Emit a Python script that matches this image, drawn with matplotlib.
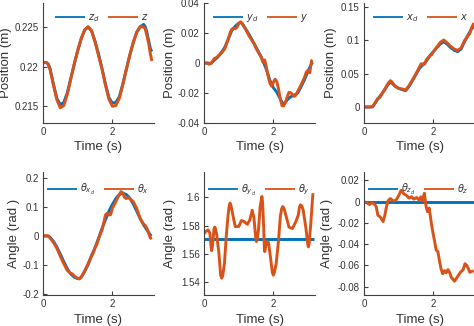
import numpy as np
import matplotlib
matplotlib.use("Agg")
import matplotlib.pyplot as plt

# ---- series: time (s) and values per channel ----
z_t = [0.0, 0.1, 0.15, 0.2, 0.3, 0.4, 0.5, 0.6, 0.7, 0.8, 0.9, 1.0, 1.1, 1.2, 1.3, 1.4, 1.5, 1.6,
       1.7, 1.8, 1.9, 2.0, 2.1, 2.2, 2.3, 2.4, 2.5, 2.6, 2.7, 2.8, 2.9, 2.95, 3.0, 3.05, 3.1, 3.14]
z_d = [0.2205, 0.2205, 0.2203, 0.2198, 0.2178, 0.2160, 0.2152, 0.2155, 0.2167, 0.2185, 0.2203, 0.2220,
       0.2235, 0.2246, 0.2250, 0.2245, 0.2232, 0.2216, 0.2198, 0.2178, 0.2161, 0.2154, 0.2155, 0.2162,
       0.2178, 0.2196, 0.2214, 0.2230, 0.2243, 0.2250, 0.2253, 0.2250, 0.2242, 0.2232, 0.2222, 0.2219]
z_m = [0.2205, 0.2205, 0.2203, 0.2197, 0.2177, 0.2158, 0.2148, 0.2151, 0.2165, 0.2184, 0.2203, 0.2220,
       0.2235, 0.2246, 0.2250, 0.2245, 0.2231, 0.2214, 0.2197, 0.2177, 0.2159, 0.2150, 0.2151, 0.2160,
       0.2177, 0.2196, 0.2214, 0.2230, 0.2243, 0.2250, 0.2250, 0.2247, 0.2238, 0.2228, 0.2215, 0.2207]

yd_t = [0.0, 0.1, 0.2, 0.3, 0.4, 0.5, 0.6, 0.7, 0.8, 0.9, 1.0, 1.05, 1.1, 1.2, 1.3, 1.4, 1.5, 1.6,
        1.7, 1.8, 1.9, 2.0, 2.1, 2.2, 2.28, 2.35, 2.4, 2.5, 2.6, 2.7, 2.8, 2.9, 3.0, 3.1, 3.13]
y_d = [0.0, 0.0, -0.0003, 0.002, 0.004, 0.007, 0.0105, 0.016, 0.0215, 0.0245, 0.0265, 0.027, 0.0262,
       0.0228, 0.019, 0.0148, 0.0105, 0.0062, 0.0015, -0.0045, -0.0115, -0.0165, -0.0195, -0.024,
       -0.0275, -0.0262, -0.0245, -0.0225, -0.0215, -0.02, -0.0158, -0.011, -0.0055, -0.0005, 0.0005]
y_t = [0.0, 0.1, 0.15, 0.2, 0.3, 0.35, 0.4, 0.5, 0.6, 0.7, 0.75, 0.8, 0.85, 0.9, 0.95, 1.0, 1.05, 1.1,
       1.2, 1.3, 1.4, 1.45, 1.5, 1.6, 1.65, 1.7, 1.75, 1.8, 1.85, 1.9, 1.95, 2.0, 2.05, 2.1, 2.15, 2.2,
       2.25, 2.3, 2.35, 2.4, 2.45, 2.5, 2.55, 2.6, 2.65, 2.7, 2.8, 2.9, 2.95, 3.0, 3.05, 3.1, 3.13]
y_m = [0.0, -0.0002, -0.0008, -0.0003, 0.003, 0.0035, 0.0045, 0.0065, 0.0095, 0.016, 0.020, 0.0225,
       0.0232, 0.0228, 0.0238, 0.0262, 0.0275, 0.0265, 0.0225, 0.018, 0.0145, 0.0128, 0.0098, 0.0058,
       0.004, 0.0005, 0.002, -0.003, -0.009, -0.0135, -0.0155, -0.0128, -0.0108, -0.0125, -0.0175,
       -0.024, -0.0285, -0.0285, -0.026, -0.0225, -0.0195, -0.0198, -0.021, -0.0222, -0.0215, -0.019,
       -0.0145, -0.0095, -0.006, -0.0048, -0.0065, 0.0015, 0.002]

xd_t = [0.0, 0.2, 0.25, 0.3, 0.4, 0.5, 0.6, 0.7, 0.76, 0.8, 0.9, 1.0, 1.1, 1.2, 1.3, 1.4, 1.5, 1.6,
        1.7, 1.8, 1.9, 2.0, 2.1, 2.2, 2.3, 2.4, 2.5, 2.6, 2.7, 2.8, 2.9, 3.0, 3.1, 3.17]
x_d = [0.0, 0.0, 0.0005, 0.004, 0.012, 0.019, 0.026, 0.034, 0.0375, 0.036, 0.031, 0.028, 0.026, 0.0245,
       0.031, 0.040, 0.049, 0.058, 0.0635, 0.069, 0.077, 0.083, 0.089, 0.0945, 0.098, 0.094, 0.089,
       0.085, 0.083, 0.087, 0.098, 0.108, 0.117, 0.121]
x_t = [0.0, 0.2, 0.25, 0.3, 0.4, 0.45, 0.5, 0.6, 0.7, 0.76, 0.8, 0.9, 1.0, 1.1, 1.2, 1.3, 1.4, 1.5,
       1.6, 1.65, 1.7, 1.75, 1.8, 1.9, 1.95, 2.0, 2.1, 2.2, 2.3, 2.4, 2.5, 2.6, 2.7, 2.8, 2.9, 2.95,
       3.0, 3.05, 3.1, 3.17]
x_m = [0.0, 0.0, 0.0005, 0.005, 0.013, 0.014, 0.018, 0.027, 0.036, 0.0395, 0.038, 0.031, 0.028, 0.027,
       0.0255, 0.032, 0.041, 0.050, 0.060, 0.065, 0.0635, 0.0645, 0.071, 0.077, 0.0785, 0.083, 0.090,
       0.097, 0.1005, 0.096, 0.091, 0.087, 0.085, 0.0885, 0.100, 0.103, 0.107, 0.110, 0.119, 0.126]

thxd_t = [0.0, 0.15, 0.2, 0.3, 0.4, 0.5, 0.6, 0.7, 0.8, 0.9, 1.0, 1.05, 1.1, 1.2, 1.3, 1.4, 1.5, 1.6,
          1.7, 1.8, 1.9, 2.0, 2.1, 2.2, 2.3, 2.4, 2.5, 2.6, 2.7, 2.8, 2.9, 3.0, 3.1, 3.13]
thx_d = [0.0, 0.0, -0.004, -0.018, -0.038, -0.062, -0.088, -0.112, -0.130, -0.141, -0.146, -0.146,
         -0.142, -0.122, -0.098, -0.067, -0.040, -0.008, 0.025, 0.055, 0.085, 0.108, 0.128, 0.142,
         0.147, 0.142, 0.130, 0.110, 0.085, 0.060, 0.038, 0.020, 0.003, 0.0]
thx_t = [0.0, 0.1, 0.15, 0.2, 0.3, 0.4, 0.5, 0.6, 0.7, 0.8, 0.85, 0.9, 1.0, 1.05, 1.1, 1.2, 1.3, 1.4,
         1.45, 1.5, 1.55, 1.6, 1.65, 1.7, 1.75, 1.8, 1.85, 1.9, 1.95, 2.0, 2.1, 2.2, 2.25, 2.3, 2.35,
         2.4, 2.45, 2.5, 2.6, 2.7, 2.8, 2.9, 2.95, 3.0, 3.05, 3.1, 3.13]
thx_m = [0.0, 0.001, 0.0, -0.006, -0.022, -0.042, -0.070, -0.095, -0.118, -0.128, -0.130, -0.137,
         -0.145, -0.147, -0.140, -0.120, -0.095, -0.068, -0.058, -0.040, -0.030, -0.010, 0.005, 0.020,
         0.045, 0.072, 0.078, 0.072, 0.073, 0.095, 0.118, 0.142, 0.152, 0.147, 0.132, 0.128, 0.131,
         0.128, 0.118, 0.095, 0.060, 0.040, 0.036, 0.025, 0.008, -0.008, -0.004]

thyd_t = [0.0, 3.16]
thy_d = [1.5708, 1.5708]
thy_t = [0.0, 0.05, 0.12, 0.17, 0.20, 0.22, 0.24, 0.26, 0.29, 0.31, 0.33, 0.36, 0.43, 0.48, 0.51,
         0.54, 0.59, 0.64, 0.69, 0.72, 0.75, 0.78, 0.82, 0.9, 1.0, 1.08, 1.15, 1.25, 1.32, 1.39, 1.44,
         1.49, 1.51, 1.53, 1.57, 1.62, 1.65, 1.67, 1.69, 1.72, 1.74, 1.75, 1.77, 1.8, 1.86, 1.92,
         1.97, 2.0, 2.03, 2.08, 2.15, 2.2, 2.24, 2.27, 2.31, 2.37, 2.45, 2.55, 2.65, 2.72, 2.75,
         2.78, 2.82, 2.86, 2.94, 2.99, 3.01, 3.03, 3.08, 3.14]
thy_m = [1.5743, 1.576, 1.577, 1.5747, 1.566, 1.5624, 1.565, 1.570, 1.578, 1.579, 1.578, 1.5747,
         1.5606, 1.545, 1.5429, 1.5445, 1.5535, 1.572, 1.5865, 1.593, 1.596, 1.594, 1.589, 1.5794,
         1.5794, 1.5837, 1.583, 1.581, 1.584, 1.591, 1.5854, 1.572, 1.5688, 1.570, 1.577, 1.5936,
         1.598, 1.6007, 1.596, 1.5794, 1.564, 1.5617, 1.564, 1.5688, 1.568, 1.557, 1.547, 1.545,
         1.547, 1.553, 1.570, 1.5865, 1.592, 1.5936, 1.592, 1.5865, 1.579, 1.578, 1.583, 1.5877,
         1.593, 1.5948, 1.594, 1.591, 1.578, 1.567, 1.565, 1.567, 1.582, 1.603]

thzd_t = [0.0, 3.16]
thz_d = [0.0, 0.0]
thz_t = [0.0, 0.08, 0.16, 0.22, 0.29, 0.35, 0.4, 0.47, 0.55, 0.6, 0.64, 0.69, 0.76, 0.84, 0.92, 1.0,
         1.07, 1.15, 1.23, 1.3, 1.37, 1.44, 1.52, 1.59, 1.64, 1.69, 1.74, 1.79, 1.83, 1.88, 1.93,
         1.98, 2.03, 2.08, 2.13, 2.18, 2.22, 2.27, 2.32, 2.37, 2.42, 2.47, 2.52, 2.57, 2.61, 2.66,
         2.71, 2.78, 2.86, 2.91, 2.96, 3.0, 3.05, 3.1, 3.16]
thz_m = [0.0, -0.001, -0.0027, -0.001, -0.002, -0.0044, -0.0128, -0.0145, -0.0188, -0.0128, -0.006,
         0.0007, 0.003, 0.0007, 0.0013, 0.0057, 0.0108, 0.0074, 0.0057, 0.0034, 0.0047, 0.0024, 0.004,
         0.0013, 0.0047, 0.0007, 0.008, -0.0044, -0.0094, -0.006, -0.0178, -0.0279, -0.0363, -0.0457,
         -0.047, -0.0565, -0.0632, -0.068, -0.065, -0.067, -0.064, -0.067, -0.0716, -0.0733, -0.075,
         -0.0726, -0.070, -0.0666, -0.064, -0.0585, -0.060, -0.0625, -0.0666, -0.066, -0.065]

# ---- axis ticks per panel ----
yticks_z = [0.215, 0.22, 0.225]
yticks_y = [-0.04, -0.02, 0, 0.02, 0.04]
yticks_x = [0, 0.05, 0.1, 0.15]
yticks_thx = [-0.2, -0.1, 0, 0.1, 0.2]
yticks_thy = [1.54, 1.56, 1.58, 1.6]
yticks_thz = [-0.08, -0.06, -0.04, -0.02, 0, 0.02]
xticks = [0, 2]

BLUE = "#0072BD"
ORANGE = "#D95319"
GRAY = "#404040"
TXT = "#333333"

plt.rcParams["font.family"] = ["Liberation Sans", "DejaVu Sans"]
plt.rcParams["mathtext.fontset"] = "dejavusans"

fig = plt.figure(figsize=(4.74, 3.26), dpi=100)

W = 111 / 474
panels = [
    # left, bottom, height, ylim, yticks, ylabel, ylabel x, legend x, legend y
    (43 / 474, 1 - 123 / 326, 120 / 326, (0.2129, 0.2280), yticks_z, "Position (m)", -0.33, 0.105, 0.875),
    (204 / 474, 1 - 123 / 326, 120 / 326, (-0.04, 0.04), yticks_y, "Position (m)", -0.31, 0.08, 0.875),
    (364 / 474, 1 - 123 / 326, 120 / 326, (-0.024, 0.156), yticks_x, "Position (m)", -0.30, 0.08, 0.875),
    (43 / 474, 1 - 295 / 326, 123 / 326, (-0.202, 0.219), yticks_thx, "Angle (rad )", -0.26, 0.035, 0.855),
    (204 / 474, 1 - 295 / 326, 123 / 326, (1.531, 1.618), yticks_thy, "Angle (rad )", -0.31, 0.035, 0.855),
    (364 / 474, 1 - 295 / 326, 123 / 326, (-0.088, 0.028), yticks_thz, "Angle (rad )", -0.33, 0.035, 0.855),
]

series = [
    (z_t, z_d, z_t, z_m, r"$z_d$", r"$z$"),
    (yd_t, y_d, y_t, y_m, r"$y_d$", r"$y$"),
    (xd_t, x_d, x_t, x_m, r"$x_d$", r"$x$"),
    (thxd_t, thx_d, thx_t, thx_m, r"$\theta_{x_d}$", r"$\theta_x$"),
    (thyd_t, thy_d, thy_t, thy_m, r"$\theta_{y_d}$", r"$\theta_y$"),
    (thzd_t, thz_d, thz_t, thz_m, r"$\theta_{z_d}$", r"$\theta_z$"),
]

for (left, bottom, h, ylim, yt, ylab, lx, legx, legy), (td, vd, tm, vm, ld, lm) in zip(panels, series):
    ax = fig.add_axes([left, bottom, W, h])
    ax.plot(td, vd, color=BLUE, lw=2.1, label=ld, solid_capstyle="butt")
    ax.plot(tm, vm, color=ORANGE, lw=2.1, label=lm, solid_capstyle="butt")
    ax.set_xlim(0, 3.2)
    ax.set_ylim(*ylim)
    ax.set_xticks(xticks)
    ax.set_xticklabels([str(v) for v in xticks])
    ax.set_yticks(yt)
    ax.set_yticklabels([f"{v:g}" for v in yt])
    for s in ["top", "right"]:
        ax.spines[s].set_visible(False)
    for s in ["left", "bottom"]:
        ax.spines[s].set_color(GRAY)
        ax.spines[s].set_linewidth(0.8)
    ax.tick_params(direction="in", length=3, width=0.8, color=GRAY, labelcolor=TXT,
                   labelsize=7, pad=3)
    ax.set_xlabel("Time (s)", fontsize=9.5, color=TXT)
    ax.xaxis.set_label_coords(0.5, -0.2)
    ax.xaxis.label.set_va("center")
    ax.set_ylabel(ylab, fontsize=9.5, color=TXT)
    ax.yaxis.set_label_coords(lx, 0.5)
    ax.yaxis.label.set_va("center")
    leg = ax.legend(ncol=2, frameon=False, loc="center left", bbox_to_anchor=(legx, legy),
                    fontsize=7, handlelength=3.1, handletextpad=0.3, columnspacing=0.9,
                    borderpad=0, borderaxespad=0)
    for ln in leg.get_lines():
        ln.set_linewidth(1.3)
    for txt in leg.get_texts():
        txt.set_color(TXT)

fig.savefig("out.png", dpi=100)
